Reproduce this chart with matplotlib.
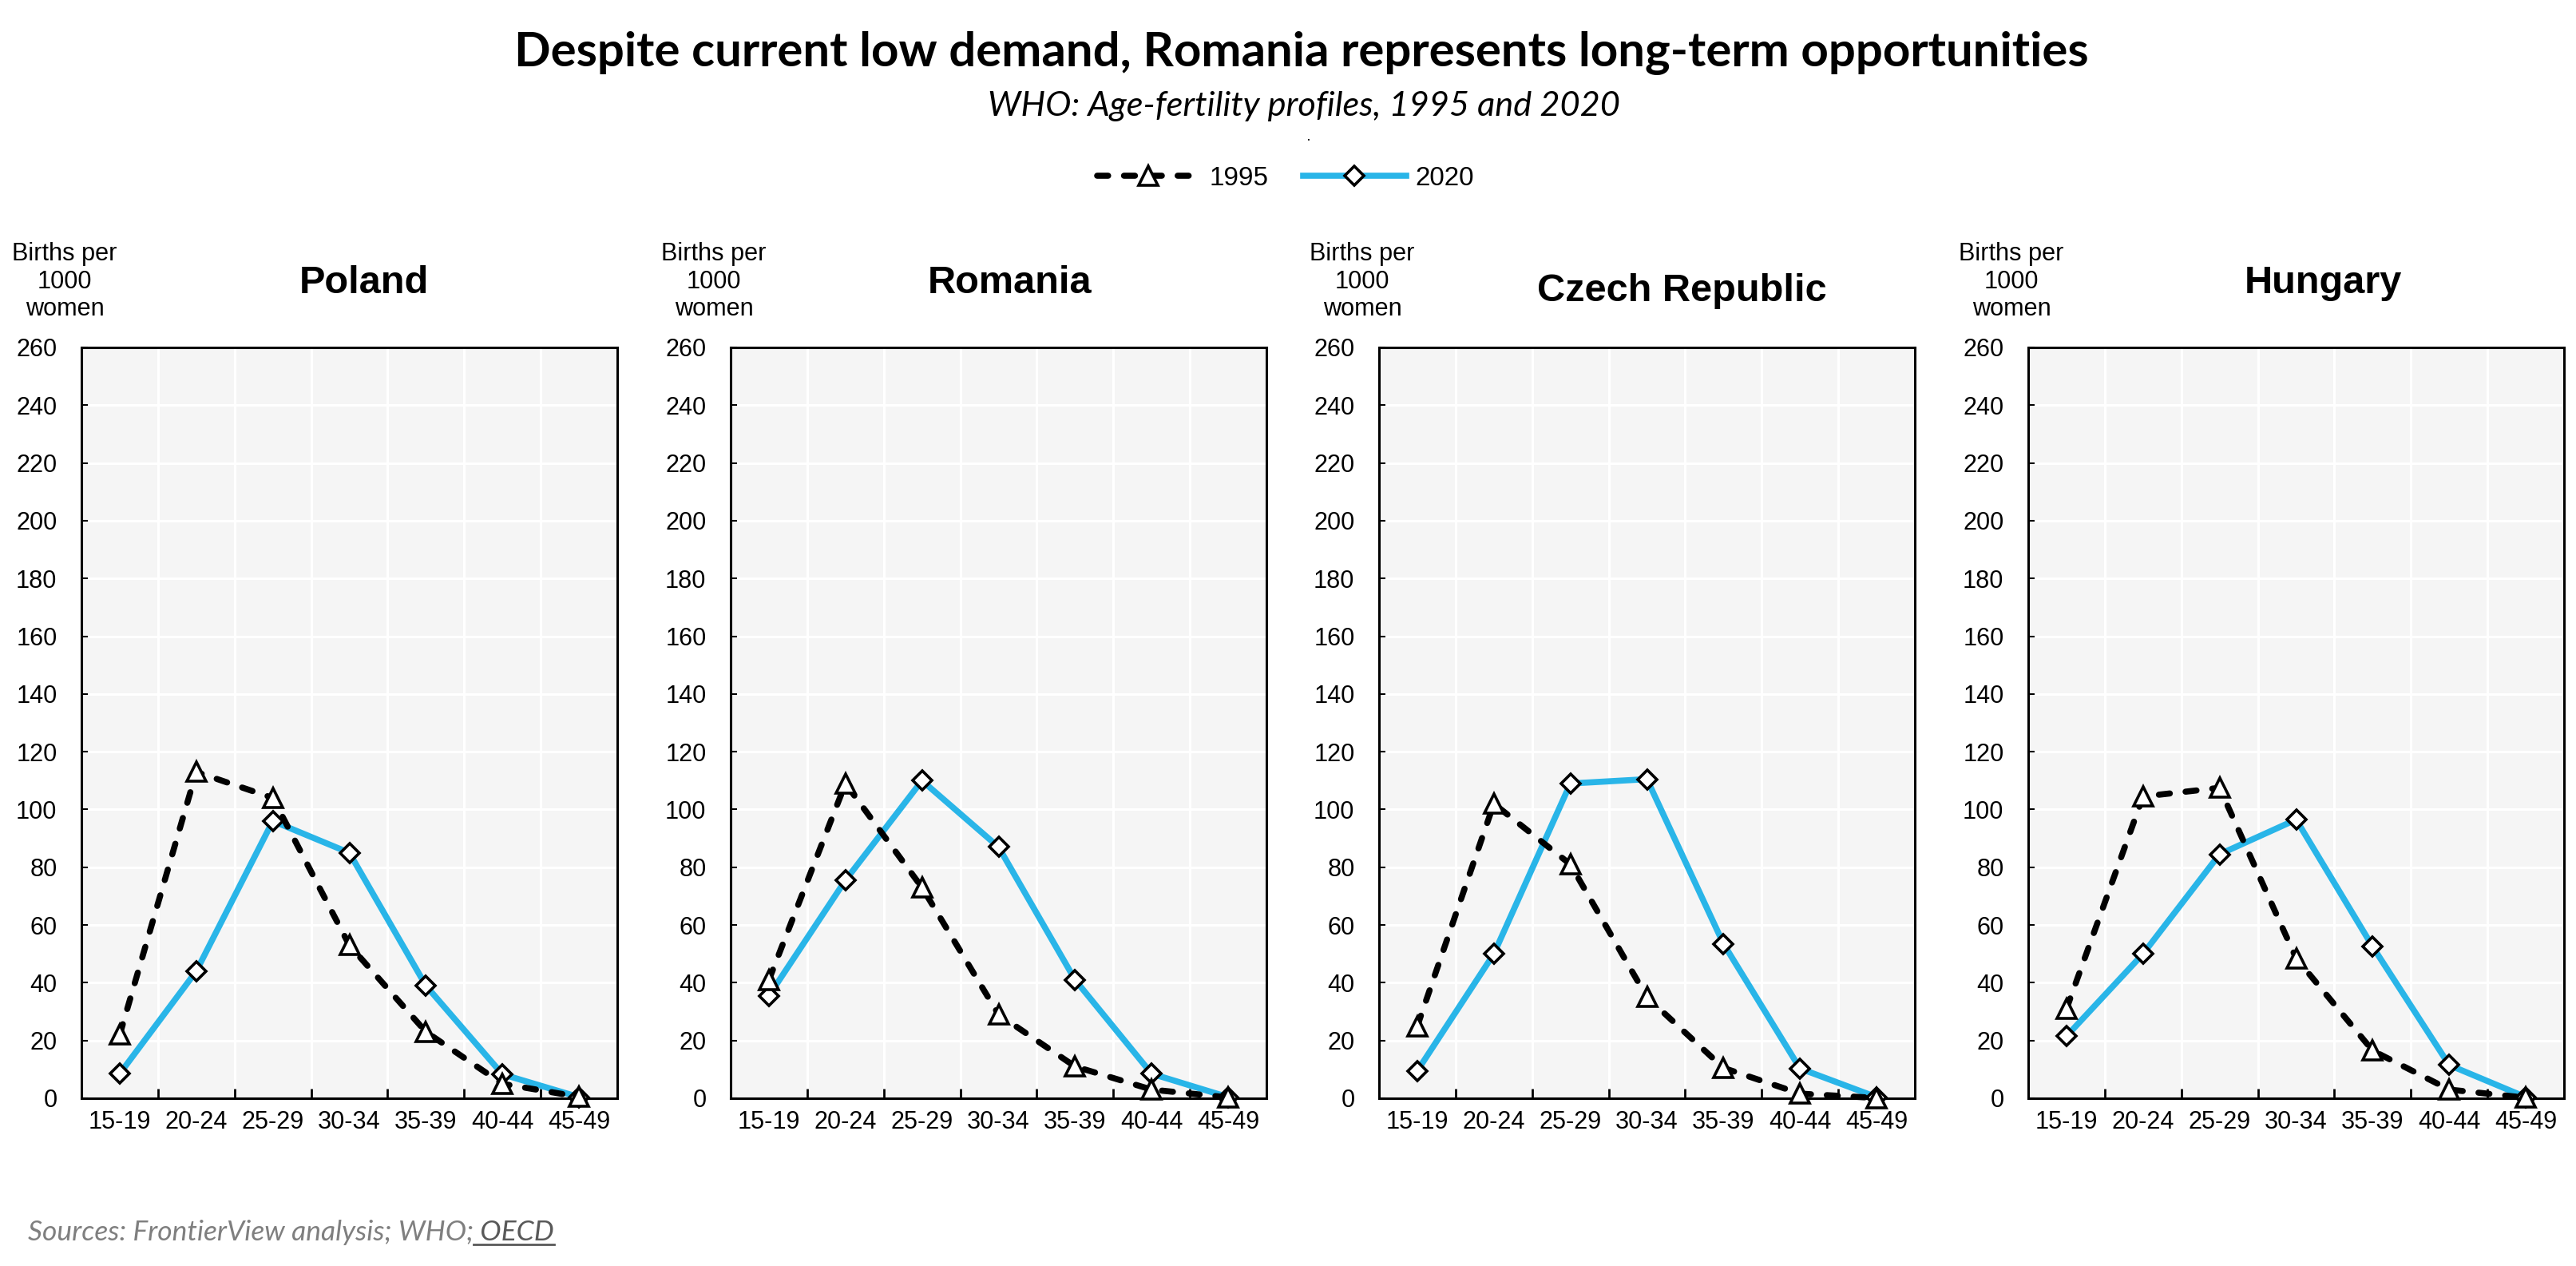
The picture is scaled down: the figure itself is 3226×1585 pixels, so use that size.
import numpy as np
import matplotlib
matplotlib.use("Agg")
import matplotlib.pyplot as plt
from matplotlib import font_manager
from matplotlib.lines import Line2D

# ---------------- data ----------------
age_groups = ["15-19", "20-24", "25-29", "30-34", "35-39", "40-44", "45-49"]
countries = ["Poland", "Romania", "Czech Republic", "Hungary"]

poland_1995 = [22, 113, 104, 53, 23, 5, 0.5]
poland_2020 = [8.5, 44, 96, 85, 39, 8.3, 0.4]
romania_1995 = [41, 109, 73, 29, 11, 3, 0.3]
romania_2020 = [35.5, 75.5, 110, 87, 41, 8.5, 0.4]
czech_1995 = [25, 102, 81, 35, 10.5, 1.6, 0.1]
czech_2020 = [9.5, 50, 109, 110.5, 53.5, 10.3, 0.4]
hungary_1995 = [31, 104.5, 107.5, 48.5, 16.5, 3, 0.2]
hungary_2020 = [21.5, 50, 84.5, 96.5, 52.5, 11.5, 0.4]

series_1995 = [poland_1995, romania_1995, czech_1995, hungary_1995]
series_2020 = [poland_2020, romania_2020, czech_2020, hungary_2020]

title = "Despite current low demand, Romania represents long-term opportunities"
subtitle = "WHO: Age-fertility profiles, 1995 and 2020"
ylabel = "Births per\n1000\nwomen"
yticks = list(range(0, 261, 20))

# ---------------- fonts ----------------
names = {f.name for f in font_manager.fontManager.ttflist}
NARROW = "Liberation Sans Narrow" if "Liberation Sans Narrow" in names else "Liberation Sans"
SCALE = 1.0 if NARROW == "Liberation Sans Narrow" else 0.92
plt.rcParams["font.family"] = [NARROW, "DejaVu Sans"]
HUM = ["Lato", "DejaVu Sans"]

BLUE = "#29B5E8"
W, H = 3226, 1585
fig = plt.figure(figsize=(W / 100, H / 100), dpi=100)
fig.patch.set_facecolor("white")

lefts = [102, 915, 1727, 2540]
axw = 671
top_px, bot_px = 435, 1375
title_cx = [456, 1265, 2106, 2909]
title_base = [367, 367, 377, 367]

LW = 5.5
x = np.arange(len(age_groups))
handles = None
for i, c in enumerate(countries):
    l = lefts[i]
    ax = fig.add_axes([l / W, 1 - bot_px / H, axw / W, (bot_px - top_px) / H])
    ax.set_facecolor("#F5F5F5")
    l20, = ax.plot(x, series_2020[i], color=BLUE, lw=LW, marker="D", ms=12.5,
                   mfc="white", mec="black", mew=2.6, clip_on=False, zorder=3,
                   label="2020")
    l95, = ax.plot(x, series_1995[i], color="black", lw=LW, ls=(0, (1.8, 2.6)),
                   dash_capstyle="round", marker="^", ms=17, mfc="white",
                   mec="black", mew=2.6, clip_on=False, zorder=4, label="1995")
    handles = [l95, l20]
    ax.set_xlim(-0.5, len(age_groups) - 0.5)
    ax.set_ylim(0, 260)
    ax.set_yticks(yticks)
    ax.set_xticks(x)
    ax.set_xticklabels(age_groups)
    ax.set_xticks(np.arange(0.5, len(age_groups) - 0.5, 1), minor=True)
    ax.tick_params(axis="x", which="major", length=0, pad=11, labelsize=24 * SCALE)
    ax.tick_params(axis="x", which="minor", direction="in", length=8.5, width=2,
                   color="black")
    ax.tick_params(axis="y", which="major", direction="in", length=6, width=1.5,
                   pad=22, labelsize=24 * SCALE)
    ax.set_axisbelow(True)
    ax.grid(axis="y", which="major", color="white", lw=2.2)
    ax.grid(axis="x", which="minor", color="white", lw=2.2)
    for s in ax.spines.values():
        s.set_linewidth(2.2)
        s.set_color("black")
    fig.text((l - 21) / W, 1 - 303 / H, ylabel, ha="center", va="top",
             ma="center", fontsize=24 * SCALE)
    fig.text(title_cx[i] / W, 1 - title_base[i] / H, c, ha="center",
             va="baseline", fontsize=39 * 0.9, fontweight="bold")

leg_fs = 26 * SCALE
fig.legend(handles, ["1995", "2020"], loc="center",
           bbox_to_anchor=(1610 / W, 1 - 223 / H), ncol=2, frameon=False,
           fontsize=leg_fs, handlelength=93 / leg_fs, handletextpad=0.35,
           columnspacing=1.3, numpoints=1)

renderer = fig.canvas.get_renderer()


def fit(t, target):
    for _ in range(3):
        w = t.get_window_extent(renderer).width
        t.set_fontsize(t.get_fontsize() * target / w)


t = fig.text(1630 / W, 1 - 83 / H, title, ha="center", va="baseline",
             fontsize=38, fontweight="bold", family=HUM)
fit(t, 1973)
st = fig.text(1633 / W, 1 - 145 / H, subtitle, ha="center", va="baseline",
              fontsize=27, style="italic", family=HUM)
fit(st, 792)
fig.text(1638 / W, 1 - 176 / H, ".", ha="center", va="baseline", fontsize=12,
         family=HUM)

src_full = "Sources: FrontierView analysis; WHO; OECD"
tmp = fig.text(35 / W, 1 - 1553 / H, src_full, ha="left", va="baseline",
               fontsize=23, style="italic", family=HUM)
fit(tmp, 659)
fs = tmp.get_fontsize()
tmp.remove()
t1 = fig.text(35 / W, 1 - 1553 / H, "Sources: FrontierView analysis; WHO;",
              ha="left", va="baseline", fontsize=fs, style="italic",
              family=HUM, color="#7F7F7F")
bb1 = t1.get_window_extent(renderer)
t2 = fig.text(bb1.x1 / W, 1 - 1553 / H, " OECD", ha="left", va="baseline",
              fontsize=fs, style="italic", family=HUM, color="#595959")
bb2 = t2.get_window_extent(renderer)
uy = 1 - 1558 / H
fig.add_artist(Line2D([bb2.x0 / W, bb2.x1 / W], [uy, uy],
                      transform=fig.transFigure, color="#595959", lw=2))

fig.savefig("out.png", dpi=100, facecolor="white")
